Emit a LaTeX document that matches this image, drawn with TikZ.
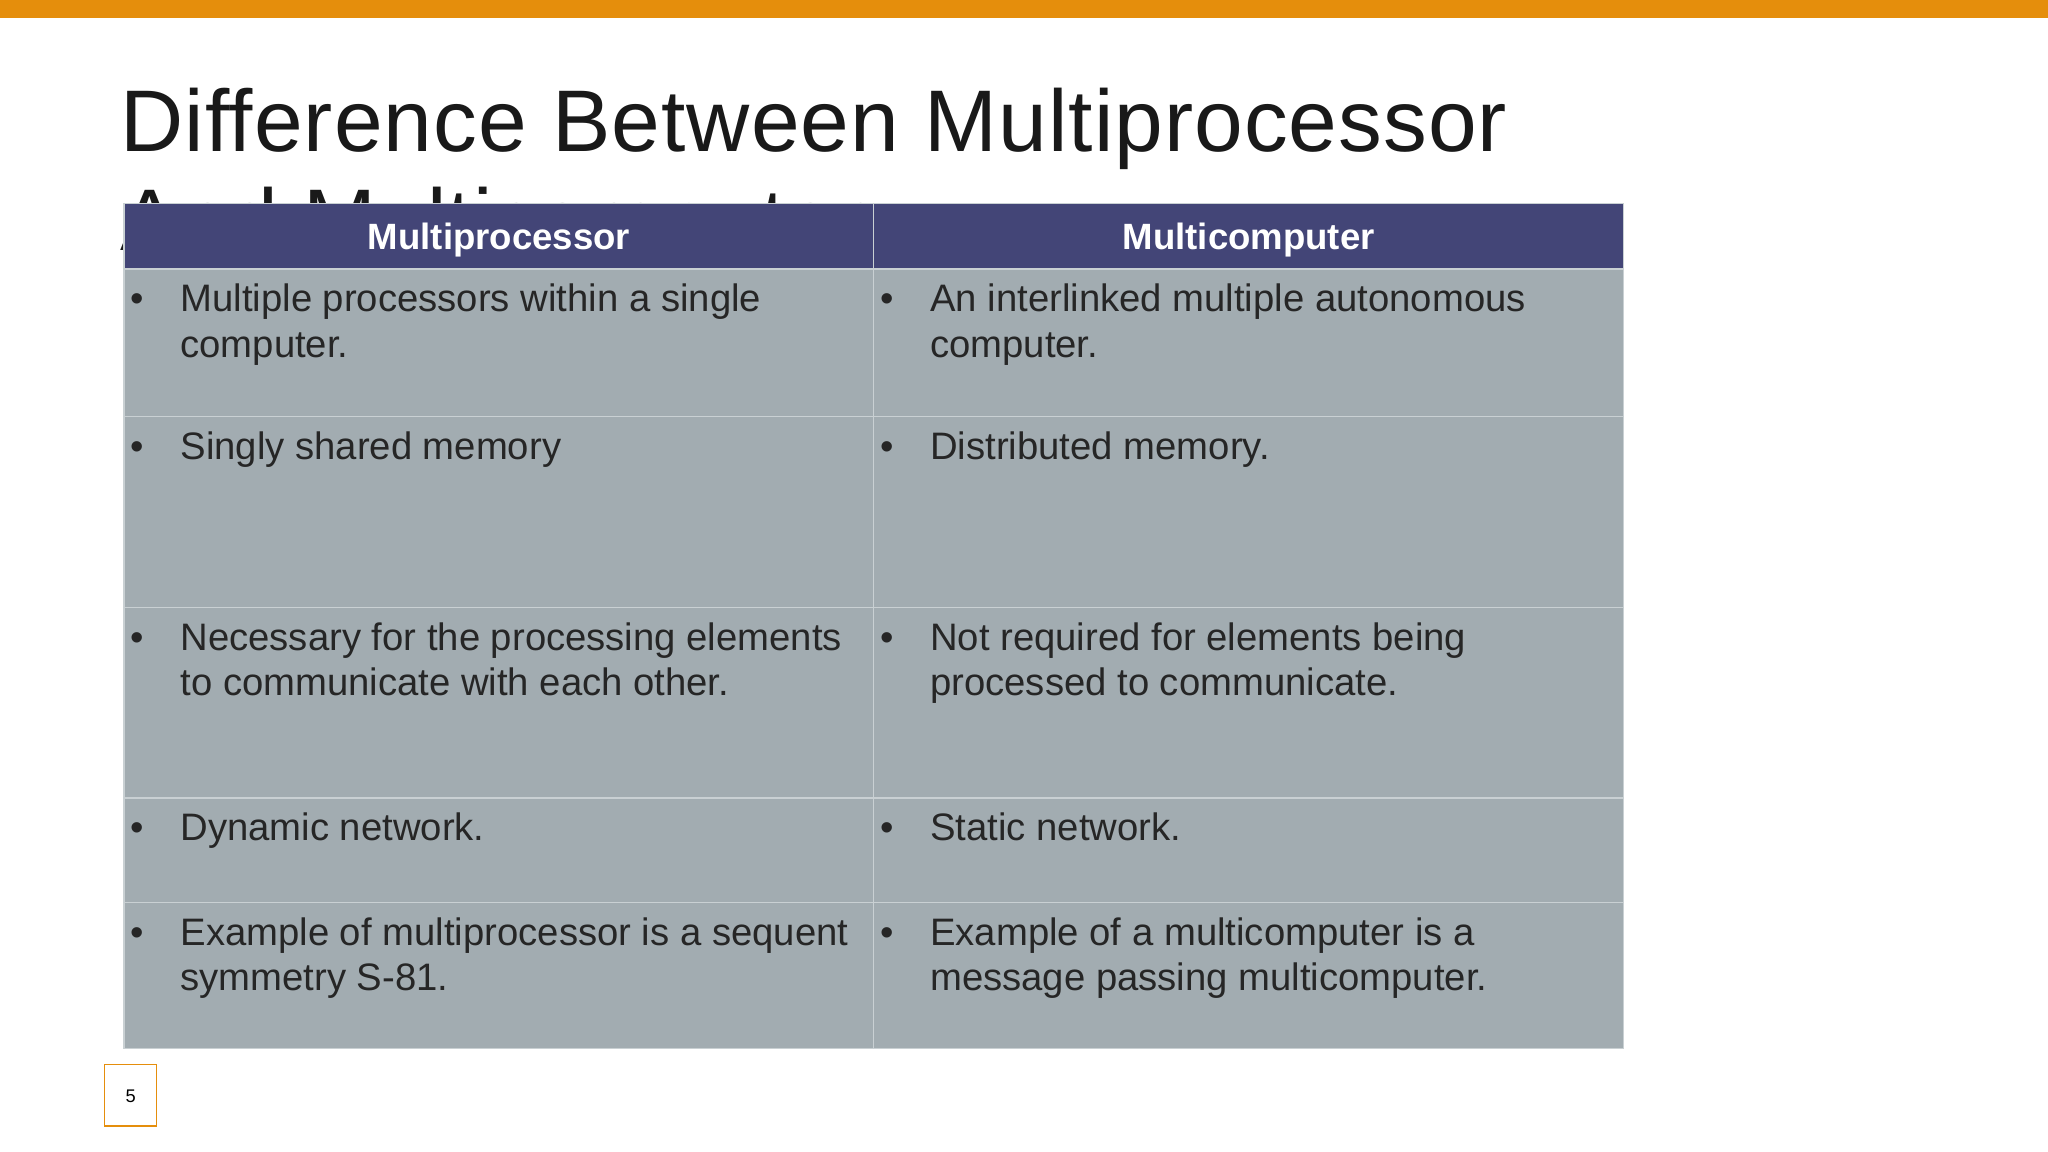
\documentclass[tikz,border=0pt]{standalone}
\usepackage{fontspec}
\setmainfont{Liberation Sans}
\definecolor{orng}{HTML}{E58E0C}
\definecolor{hdr}{HTML}{434577}
\definecolor{body}{HTML}{A2ACB1}
\definecolor{gridc}{HTML}{C9D0D3}
\begin{document}
\begin{tikzpicture}[x=1pt,y=-1pt,
  cell/.style={anchor=north west,inner sep=0pt,align=left,font=\fontsize{29.3}{35}\selectfont,text=black!85},
  head/.style={font=\bfseries\fontsize{28}{32}\selectfont,text=white},
  ttl/.style={anchor=base west,inner sep=0pt,font=\fontsize{67}{72}\selectfont,text=black!90}]
\useasboundingbox (0,0) rectangle (1568,882);
\fill[white] (0,0) rectangle (1568,882);
\fill[orng] (0,0) rectangle (1568,14);
\node[ttl] (t1) at (92,116) {\addfontfeatures{LetterSpace=1.2}Difference Between Multiprocessor};
\node[ttl] (t2) at (92,192) {\addfontfeatures{LetterSpace=1.2}And Multicomputer};
\fill[hdr] (95,156) rectangle (1243,206);
\fill[body] (95,206) rectangle (1243,803);
\foreach \y in {206,319,465,611,691} \draw[gridc,line width=1pt] (95,\y) -- (1243,\y);
\draw[gridc,line width=1pt] (669,156) -- (669,803);
\draw[gridc,line width=1pt] (95,156) rectangle (1243,803);
\node[head] (h1) at (382,184) {Multiprocessor};
\node[head] (h2) at (956,184) {Multicomputer};
\foreach \y/\a/\b [count=\i] in {
 214/{Multiple processors within a single\\computer.}/{An interlinked multiple autonomous\\computer.},
 327/{Singly shared memory}/{Distributed memory.},
 473/{Necessary for the processing elements\\to communicate with each other.}/{Not required for elements being\\processed to communicate.},
 619/{Dynamic network.}/{Static network.},
 699/{Example of multiprocessor is a sequent\\symmetry S-81.}/{Example of a multicomputer is a\\message passing multicomputer.}}{
 \node[cell] (bl\i) at (100,\y) {\strut\textbullet};
 \node[cell] (l\i) at (138,\y) {\strut\a};
 \node[cell] (br\i) at (674,\y) {\strut\textbullet};
 \node[cell] (r\i) at (712,\y) {\strut\b};
}
\draw[orng,line width=1pt] (80,815) rectangle (120,862);
\node[font=\fontsize{14}{16}\selectfont] (pg) at (100,839) {5};
\end{tikzpicture}
\end{document}
